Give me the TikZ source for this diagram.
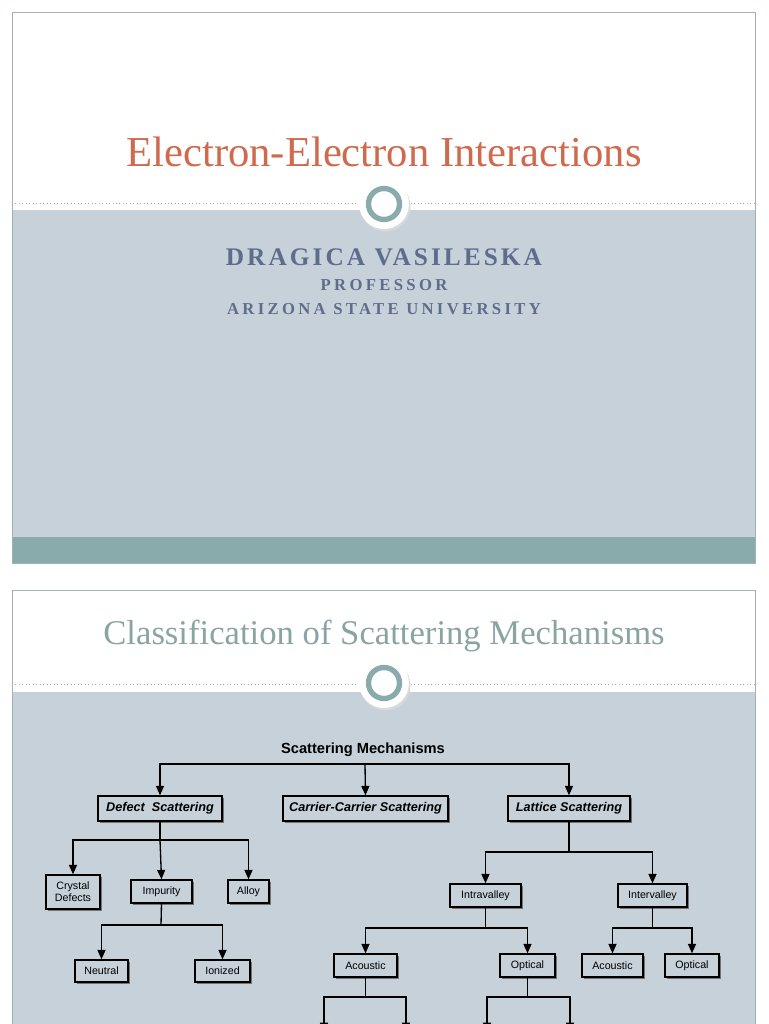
\documentclass[tikz,border=0pt]{standalone}
\usepackage{fontspec}
\setmainfont{Liberation Serif}
\newfontfamily\arial{Liberation Sans}
\usetikzlibrary{arrows.meta}
\definecolor{slidegray}{HTML}{C6D1D9}
\definecolor{teal}{HTML}{8AABAB}
\definecolor{titlered}{HTML}{D06A4E}
\definecolor{titleteal}{HTML}{8AA3A3}
\definecolor{subblue}{HTML}{5F6C8C}
\definecolor{framec}{HTML}{9FB3B3}
\tikzset{
  bx/.style={draw=black,line width=1.1pt,fill=slidegray,inner sep=0pt,font=\arial\fontsize{8}{9}\selectfont,align=center},
  bigbx/.style={bx,font=\arial\bfseries\itshape\fontsize{9.5}{11}\selectfont},
  conn/.style={line width=1pt,-{Triangle[length=7pt,width=6pt]}},
  ln/.style={line width=1pt}
}
\begin{document}
\begin{tikzpicture}[x=0.75pt,y=-0.75pt]
\useasboundingbox (0,0) rectangle (768,1024);
\fill[white] (0,0) rectangle (768,1024);
\clip (0,0) rectangle (768,1024);
% slide 1
\fill[slidegray] (12,210) rectangle (755,537);
\fill[teal] (12,537) rectangle (755,563);
\draw[framec,line width=0.6pt] (12,12) rectangle (755,563);
\draw[gray!70,dotted,line width=0.6pt] (12,203) -- (755,203);
\fill[black!15] (385.5,206.5) circle (25);
\fill[white] (384,204) circle (25);
\draw[teal,line width=4pt,fill=white] (384,204) circle (15.5);
\node[titlered,font=\fontsize{32}{36}\selectfont] (t1) at (384,152) {Electron-Electron Interactions};
\node[subblue,font=\bfseries\fontsize{19}{22}\selectfont] (n1) at (384,257) {\addfontfeature{LetterSpace=12}DRAGICA VASILESKA};
\node[subblue,font=\bfseries\fontsize{12.5}{14}\selectfont] (n2) at (384,285) {\addfontfeature{LetterSpace=20}PROFESSOR};
\node[subblue,font=\bfseries\fontsize{12.5}{14}\selectfont] (n3) at (384,309) {\addfontfeature{LetterSpace=20}ARIZONA STATE UNIVERSITY};
% slide 2
\fill[slidegray] (12,692) rectangle (755,1030);
\draw[framec,line width=0.6pt] (12,1030) -- (12,590) -- (755,590) -- (755,1030);
\draw[gray!70,dotted,line width=0.6pt] (12,684) -- (755,684);
\fill[black!15] (385.5,685.5) circle (25);
\fill[white] (384,683) circle (25);
\draw[teal,line width=4pt,fill=white] (384,683) circle (15.5);
\node[titleteal,font=\fontsize{26}{30}\selectfont] (t2) at (384,636) {Classification of Scattering Mechanisms};
% diagram
\node[font=\arial\bfseries\fontsize{11}{13}\selectfont] (sm) at (363,750) {Scattering Mechanisms};
\def\mk#1#2#3#4#5#6#7{%
  \fill[black!55] (#2+2,#3+2) rectangle (#4+2,#5+2);
  \node[#7,minimum width=(#4-#2)*0.75pt,minimum height=(#5-#3)*0.75pt] (#1) at ({(#2+#4)/2},{(#3+#5)/2}) {#6};}
\mk{ds}{98}{796}{222}{821}{Defect\ \ Scattering}{bigbx}
\mk{cc}{283}{796}{448}{821}{Carrier-Carrier Scattering}{bigbx}
\mk{ls}{508}{796}{630}{821}{Lattice Scattering}{bigbx}
\mk{cd}{46}{875}{100}{909}{Crystal\\Defects}{bx}
\mk{im}{131}{880}{192}{903}{Impurity}{bx}
\mk{al}{228}{880}{269}{903}{Alloy}{bx}
\mk{ne}{75}{960}{128}{982}{Neutral}{bx}
\mk{io}{195}{960}{250}{982}{Ionized}{bx}
\mk{ia}{450}{884}{521}{907}{Intravalley}{bx}
\mk{ie}{618}{884}{687}{907}{Intervalley}{bx}
\mk{aa}{334}{954}{397}{977}{Acoustic}{bx}
\mk{ao}{500}{954}{555}{977}{Optical}{bx}
\mk{ea}{582}{954}{643}{977}{Acoustic}{bx}
\mk{eo}{665}{954}{719}{977}{Optical}{bx}
% connectors
\coordinate (j0) at (365,764);
\draw[conn] (j0) -| (ds.north);
\draw[conn] (j0) -- (cc.north);
\draw[conn] (j0) -| (ls.north);
\coordinate (j1) at (160,840);
\draw[ln] (ds.south) -- (j1);
\draw[conn] (j1) -| (cd.north);
\draw[conn] (j1) -- (im.north);
\draw[conn] (j1) -| (al.north);
\coordinate (j2) at (161,925);
\draw[ln] (im.south) -- (j2);
\draw[conn] (j2) -| (ne.north);
\draw[conn] (j2) -| (io.north);
\coordinate (j3) at (569,852);
\draw[ln] (ls.south) -- (j3);
\draw[conn] (j3) -| (ia.north);
\draw[conn] (j3) -| (ie.north);
\coordinate (j4) at (485.5,928);
\draw[ln] (ia.south) -- (j4);
\draw[conn] (j4) -| (aa.north);
\draw[conn] (j4) -| (ao.north);
\coordinate (j5) at (652.5,928);
\draw[ln] (ie.south) -- (j5);
\draw[conn] (j5) -| (ea.north);
\draw[conn] (j5) -| (eo.north);
\coordinate (j6) at (365.5,997);
\coordinate (e1) at (324,1032);
\coordinate (e2) at (406,1032);
\draw[ln] (aa.south) -- (j6);
\draw[conn] (j6) -| (e1);
\draw[conn] (j6) -| (e2);
\coordinate (j7) at (527.5,997);
\coordinate (e3) at (487,1032);
\coordinate (e4) at (570,1032);
\draw[ln] (ao.south) -- (j7);
\draw[conn] (j7) -| (e3);
\draw[conn] (j7) -| (e4);
\end{tikzpicture}
\end{document}
